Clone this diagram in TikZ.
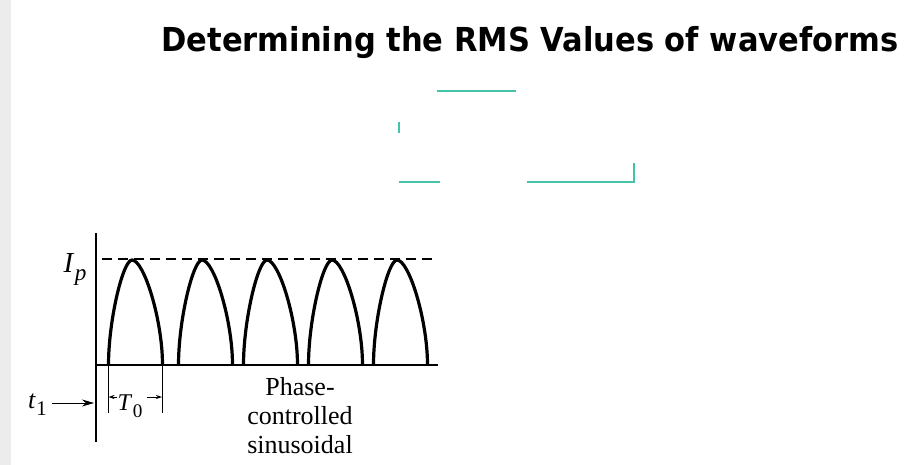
\documentclass[tikz,border=0pt]{standalone}
\usepackage{fontspec}
\setmainfont{Liberation Serif}
\newfontfamily\titlefont{DejaVu Sans}
\usetikzlibrary{arrows.meta}
\definecolor{stripgray}{HTML}{ECECEC}
\definecolor{mint}{HTML}{45C3A8}
\newcommand{\symsub}[2]{\textit{#1}\kern0.02em\raisebox{-0.3em}{\scalebox{0.8}{#2}}}
\tikzset{
  pulse/.style={line width=3.2pt, line join=round},
  axis/.style={line width=2pt},
  dim/.style={line width=0.8pt},
  dimarrow/.style={line width=0.8pt, -{Stealth[length=6pt,width=4pt]}},
  ghost/.style={mint, line width=1.2pt}
}
\begin{document}
\begin{tikzpicture}[x=1pt,y=-1pt]
  \useasboundingbox (0,0) rectangle (920,465);
  \fill[stripgray] (0,0) rectangle (11,465);
  \node[font=\titlefont\bfseries\fontsize{33}{36}\selectfont] (title) at (530,43)
    {\scalebox{0.925}[1]{Determining the RMS Values of waveforms}};
  % remains of the hidden formula
  \begin{scope}[ghost]
    \draw (437,91) -- (516,91);
    \draw (399,122) -- (399,133);
    \draw (399,182) -- (440,182);
    \draw (527,182) -- (634,182) -- (634,163);
  \end{scope}
  % axes
  \coordinate (ytop) at (96,233);
  \coordinate (ybot) at (96,442);
  \coordinate (orig) at (96,365);
  \coordinate (xend) at (438,365);
  \draw[axis] (ytop) -- (ybot);
  \draw[axis] (orig) -- (xend);
  \coordinate (pk0) at (102,259);
  \coordinate (pk1) at (433,259);
  \draw[line width=1.1pt, dash pattern=on 10pt off 6pt] (pk0) -- (pk1);
  \node[font=\fontsize{29}{30}\selectfont, anchor=base, inner sep=0pt] (Ip) at (75,272) {\symsub{I}{\textit{p}}};
  % pulses
  \foreach \p in {132,202,267,332,397}
    \draw[pulse] ({\p-23.5},365) .. controls ({\p-23.5},320) and ({\p-9},260) .. (\p,260)
      .. controls ({\p+12},260) and ({\p+30.5},320) .. ({\p+30.5},365);
  % period
  \coordinate (ta) at (108,365);
  \coordinate (ta1) at (108,413);
  \coordinate (tb) at (162.5,365);
  \coordinate (tb1) at (162.5,413);
  \draw[dim] (ta) -- (ta1);
  \draw[dim] (tb) -- (tb1);
  \node[font=\fontsize{24}{26}\selectfont, anchor=base, inner sep=0pt] (T0) at (130,410) {\symsub{T}{0}};
  \coordinate (ta2) at (108.5,397);
  \coordinate (tb2) at (162,397);
  \draw[dimarrow] (T0.west |- ta2) -- (ta2);
  \draw[dimarrow] (T0.east |- tb2) ++(4,0) -- (tb2);
  % start instant
  \node[font=\fontsize{26}{28}\selectfont, anchor=base, inner sep=0pt] (t1) at (37.5,408) {\symsub{t}{1}};
  \coordinate (t1end) at (94,403);
  \draw[dimarrow, -{Stealth[length=12pt,width=7pt]}] (t1.east |- t1end) ++(5,0) -- (t1end);
  \node[font=\fontsize{26}{29}\selectfont, align=center] (name) at (300,416)
    {Phase-\\controlled\\sinusoidal};
\end{tikzpicture}
\end{document}
